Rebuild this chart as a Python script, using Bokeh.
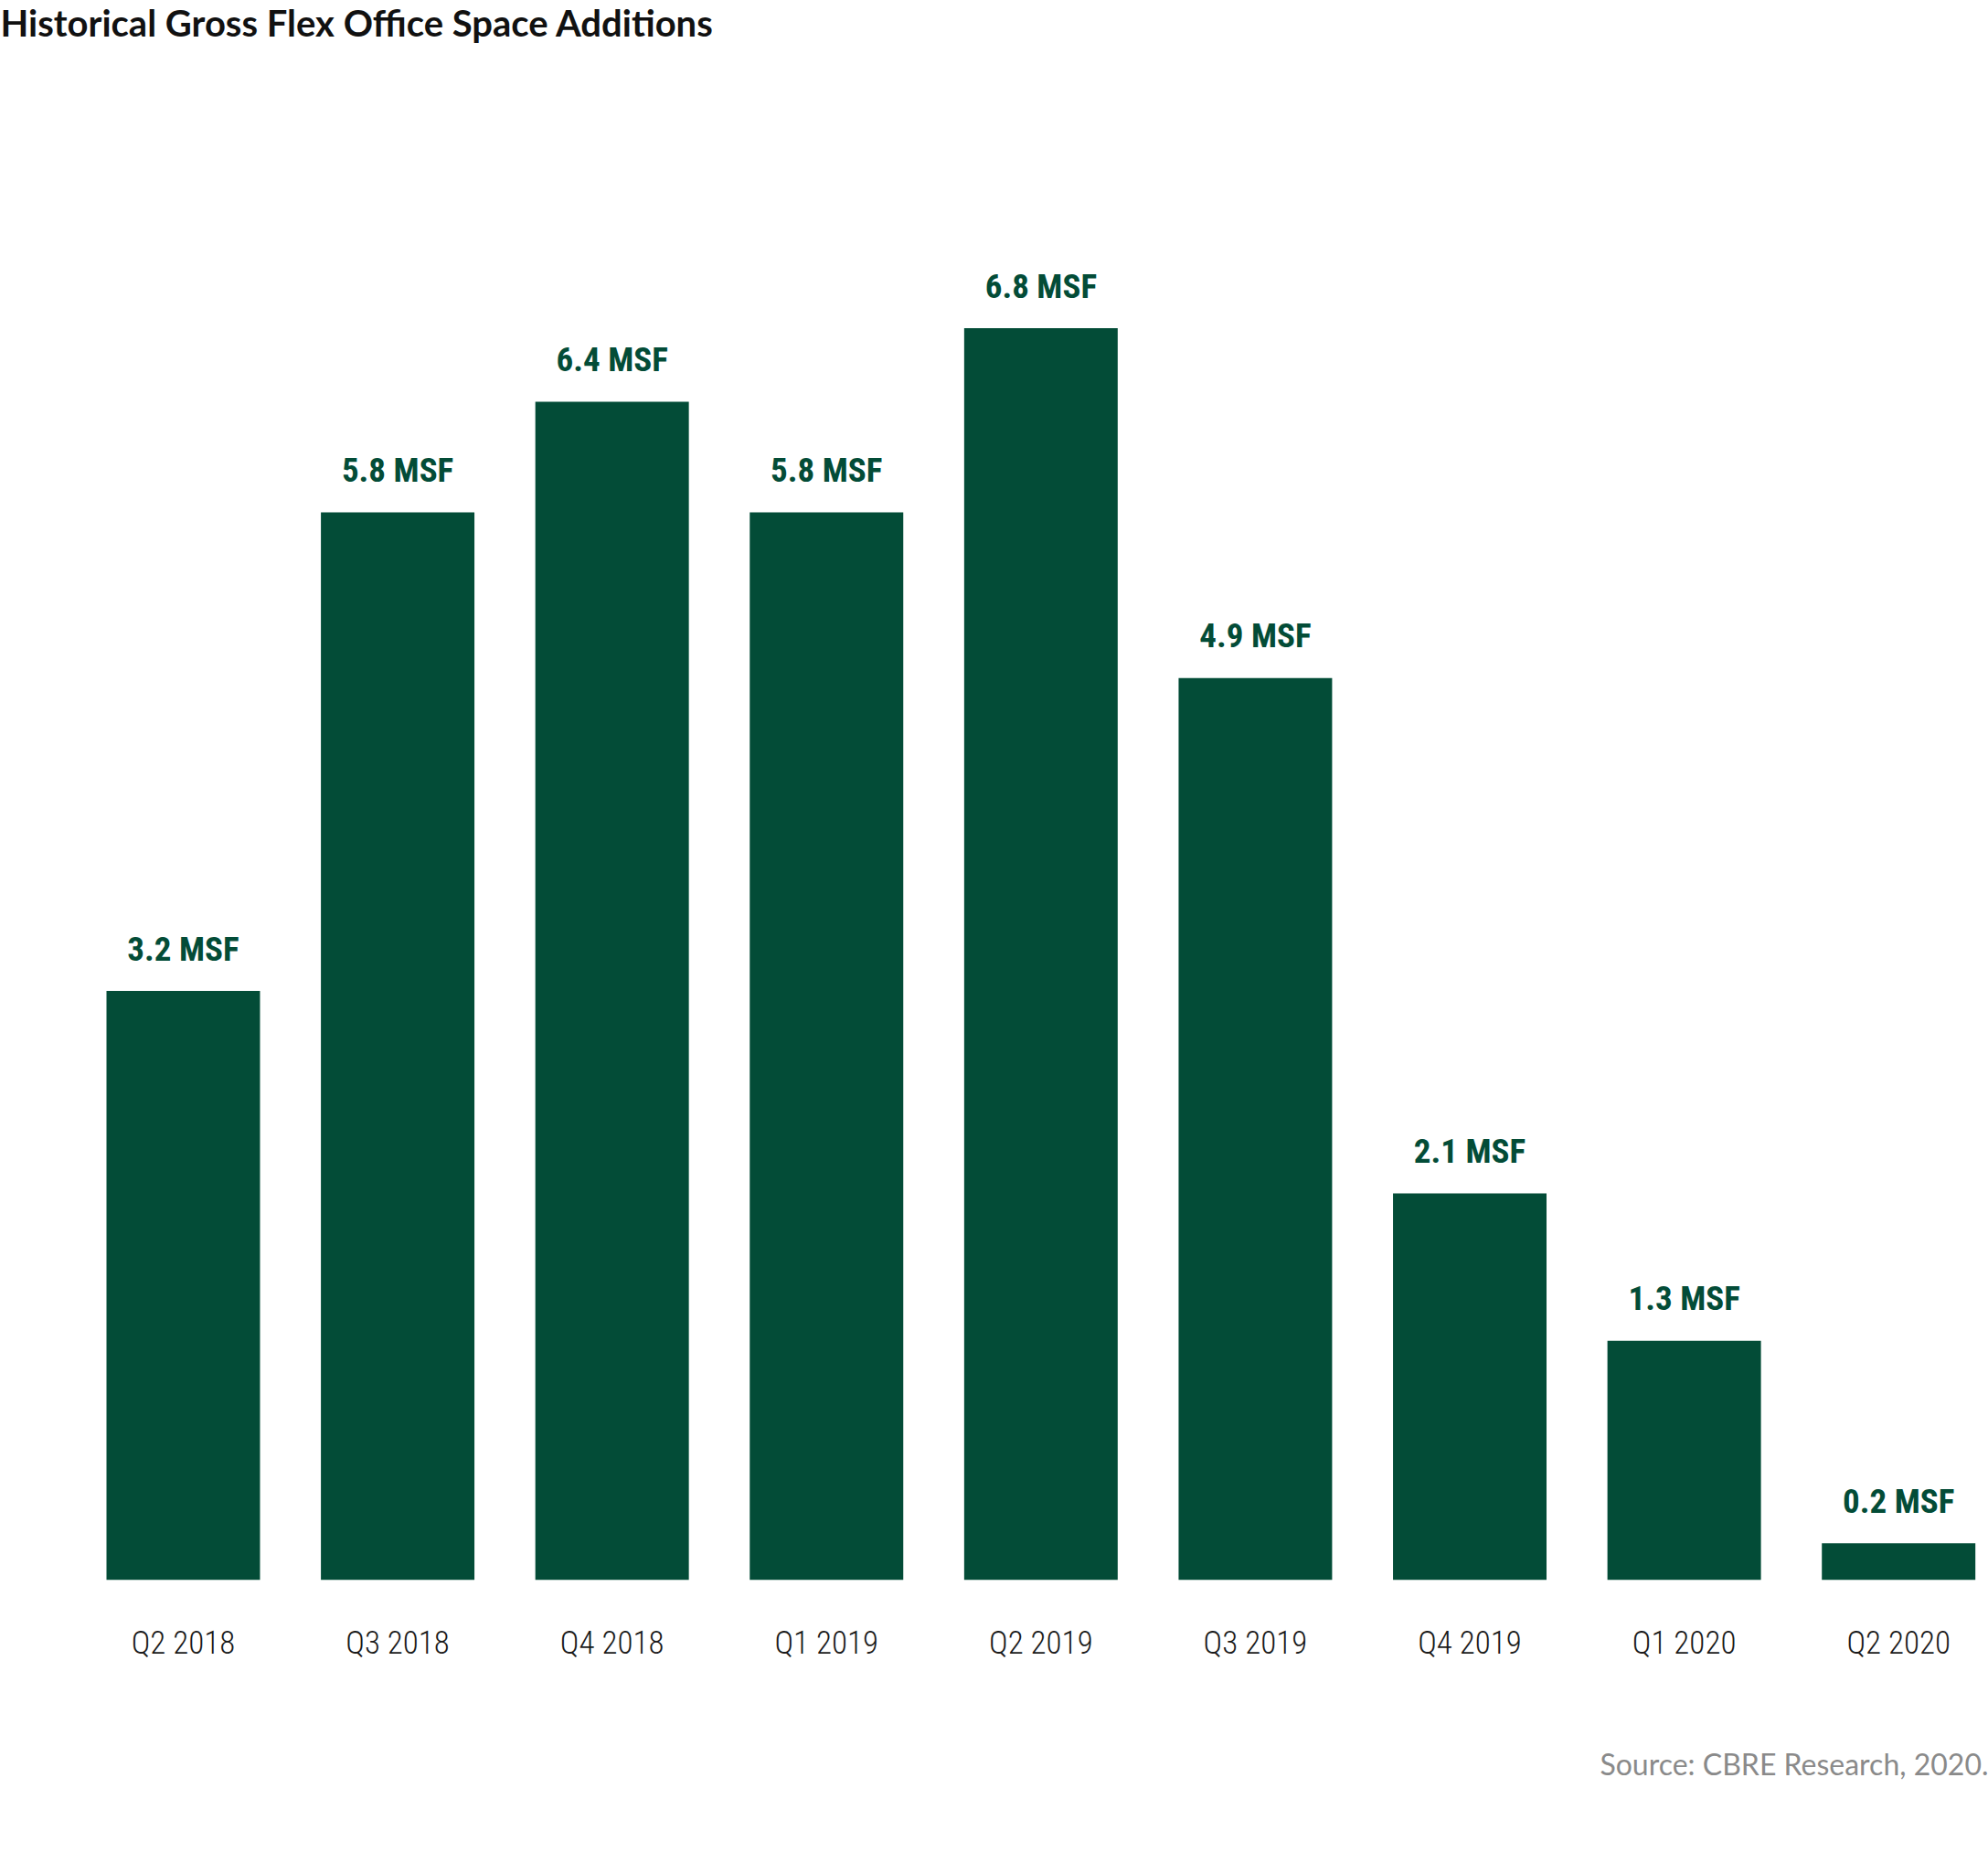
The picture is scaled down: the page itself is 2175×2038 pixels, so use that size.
from bokeh.plotting import figure
from bokeh.models import Range1d, FixedTicker, ColumnDataSource, Title
from bokeh.core.properties import value
from bokeh.embed import file_html
from bokeh.resources import INLINE

# Gross flex office space added per quarter, million square feet
quarters = ["Q2 2018", "Q3 2018", "Q4 2018", "Q1 2019", "Q2 2019",
            "Q3 2019", "Q4 2019", "Q1 2020", "Q2 2020"]
additions_msf = [3.2, 5.8, 6.4, 5.8, 6.8, 4.9, 2.1, 1.3, 0.2]
value_labels = [f"{v:.1f} MSF" for v in additions_msf]

GREEN = "#034c37"
W, H = 2175, 2038

src = ColumnDataSource(dict(
    x=list(range(len(quarters))),
    top=additions_msf,
    label=value_labels,
))

# The heading panel (about 50px) sets the top of the frame; the frame
# bottom sits 310px above the canvas bottom.
p = figure(
    width=W, height=H,
    output_backend="svg", toolbar_location=None,
    x_range=Range1d(-0.8525, 8.419), y_range=Range1d(0, 8.332),
    min_border_left=0, min_border_right=0,
    min_border_top=0, min_border_bottom=310,
    background_fill_color="white", border_fill_color="white",
)
p.outline_line_color = None
p.grid.visible = False
p.yaxis.visible = False

p.title.text = "Historical Gross Flex Office Space Additions"
p.title.text_font = "Lato"
p.title.text_font_style = "bold"
p.title.text_font_size = "40px"
p.title.text_color = "#111111"
p.title.align = "left"
p.title.vertical_align = "top"
p.title.standoff = 0

p.vbar(x="x", top="top", bottom=0, width=0.716, source=src,
       fill_color=GREEN, line_color=None)

p.text(x="x", y="top", text="label", source=src,
       text_align="center", text_baseline="middle", y_offset=-46,
       text_font=value("Roboto Condensed"), text_font_style="bold",
       text_font_size="37px", text_color=GREEN)

xa = p.xaxis[0]
xa.ticker = FixedTicker(ticks=list(range(len(quarters))))
xa.major_label_overrides = {i: q for i, q in enumerate(quarters)}
xa.axis_line_color = None
xa.major_tick_line_color = None
xa.minor_tick_line_color = None
xa.major_tick_out = 0
xa.major_label_standoff = 48
xa.major_label_text_font = "Roboto Condensed Light"
xa.major_label_text_font_size = "35px"
xa.major_label_text_color = "#1a1a1a"

source_note = Title(text="Source: CBRE Research, 2020.", align="right",
                    text_font="Lato", text_font_style="normal",
                    text_font_size="32px", text_color="#8a8a8a",
                    standoff=174)
p.add_layout(source_note, "below")

open("out.html", "w").write(file_html(p, INLINE))
